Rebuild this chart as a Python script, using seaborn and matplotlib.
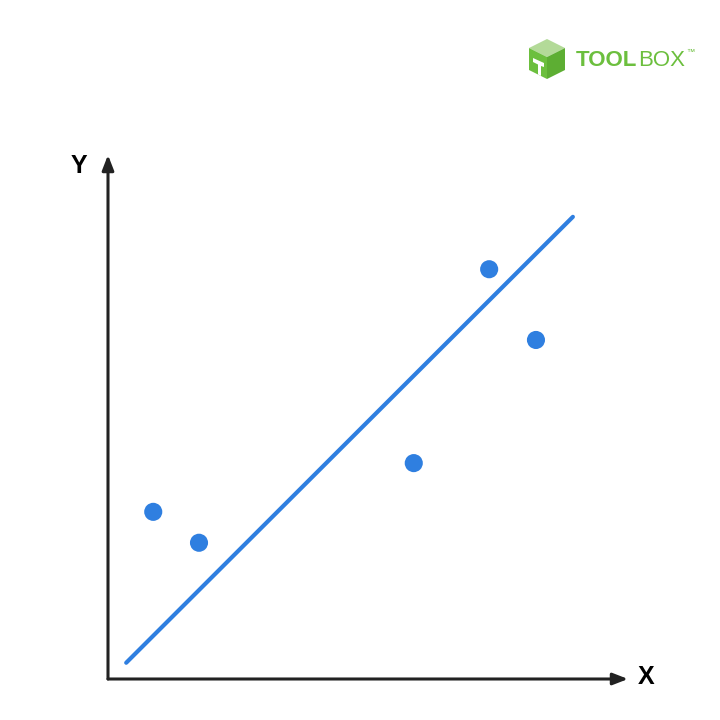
import matplotlib
matplotlib.use("Agg")
from matplotlib import pyplot as plt
from matplotlib.patches import Polygon
import seaborn as sns
import pandas as pd

# observed points and fitted line (arbitrary units)
x_points = [0.87, 1.75, 5.88, 7.33, 8.23]
y_points = [3.19, 2.60, 4.12, 7.82, 6.47]
x_line = [0.35, 8.94]
y_line = [0.31, 8.82]

blue = "#2F7FE0"
green = "#6CBF3E"
dark = "#222222"

sns.set_style("white")
plt.rcParams['font.family'] = ['Liberation Sans', 'DejaVu Sans']

fig = plt.figure(figsize=(7.2, 7.2), dpi=100)

# axes box in pixels: x 108..628, y 155..679
ax = fig.add_axes([108 / 720, 1 - 679 / 720, 520 / 720, 524 / 720])
ax.set_xlim(0, 10)
ax.set_ylim(0, 10)

pts = pd.DataFrame({"x": x_points, "y": y_points})
fit = pd.DataFrame({"x": x_line, "y": y_line})
sns.lineplot(data=fit, x="x", y="y", ax=ax, color=blue, linewidth=3.0)
sns.scatterplot(data=pts, x="x", y="y", ax=ax, color=blue, s=170,
                edgecolor="none", zorder=3)

for s in ax.spines.values():
    s.set_visible(False)
ax.set_xticks([])
ax.set_yticks([])
ax.set_xlabel("")
ax.set_ylabel("")

arrow = dict(arrowstyle="-|>,head_length=0.9,head_width=0.35", color=dark,
             lw=2.2, shrinkA=0, shrinkB=0)
ax.annotate("", xy=(0, 1), xytext=(0, 0), xycoords="axes fraction",
            arrowprops=arrow, annotation_clip=False)
ax.annotate("", xy=(1, 0), xytext=(0, 0), xycoords="axes fraction",
            arrowprops=arrow, annotation_clip=False)

# overlay in pixel coordinates for labels and logo
ov = fig.add_axes([0, 0, 1, 1])
ov.set_xlim(0, 720)
ov.set_ylim(720, 0)
ov.axis("off")
ov.patch.set_alpha(0)

ov.text(79, 166, "Y", fontsize=18, fontweight="bold", color="black",
        ha="center", va="center")
ov.text(646, 677, "X", fontsize=18, fontweight="bold", color="black",
        ha="center", va="center")

# cube logo
top = [(547, 39), (565, 48), (547, 57), (529, 48)]
left = [(529, 48), (547, 57), (547, 79), (529, 70)]
right = [(547, 57), (565, 48), (565, 70), (547, 79)]
ov.add_patch(Polygon(top, closed=True, color="#B3DA98", lw=0))
ov.add_patch(Polygon(left, closed=True, color="#6CBF3E", lw=0))
ov.add_patch(Polygon(right, closed=True, color="#5DAE33", lw=0))
tee = [(533, 58), (544, 63), (544, 67), (541, 66), (541, 76), (538, 74.5),
       (538, 64.5), (533, 62)]
ov.add_patch(Polygon(tee, closed=True, color="white", lw=0))

# logo word: bold "TOOL", regular "BOX", placed side by side
tool = ov.text(576, 61, "TOOL", fontsize=16, fontweight="bold", color=green,
               ha="left", va="center")
fig.canvas.draw()
bb = tool.get_window_extent()
x_after = bb.x1 + 1  # pixel x in figure (same as overlay since 720 px wide)
box = ov.text(x_after, 61, "BOX", fontsize=16, color=green, ha="left",
              va="center")
fig.canvas.draw()
bb2 = box.get_window_extent()
ov.text(bb2.x1 + 1, 53, "™", fontsize=6, color=green, ha="left", va="center")

fig.savefig("out.png", dpi=100)
